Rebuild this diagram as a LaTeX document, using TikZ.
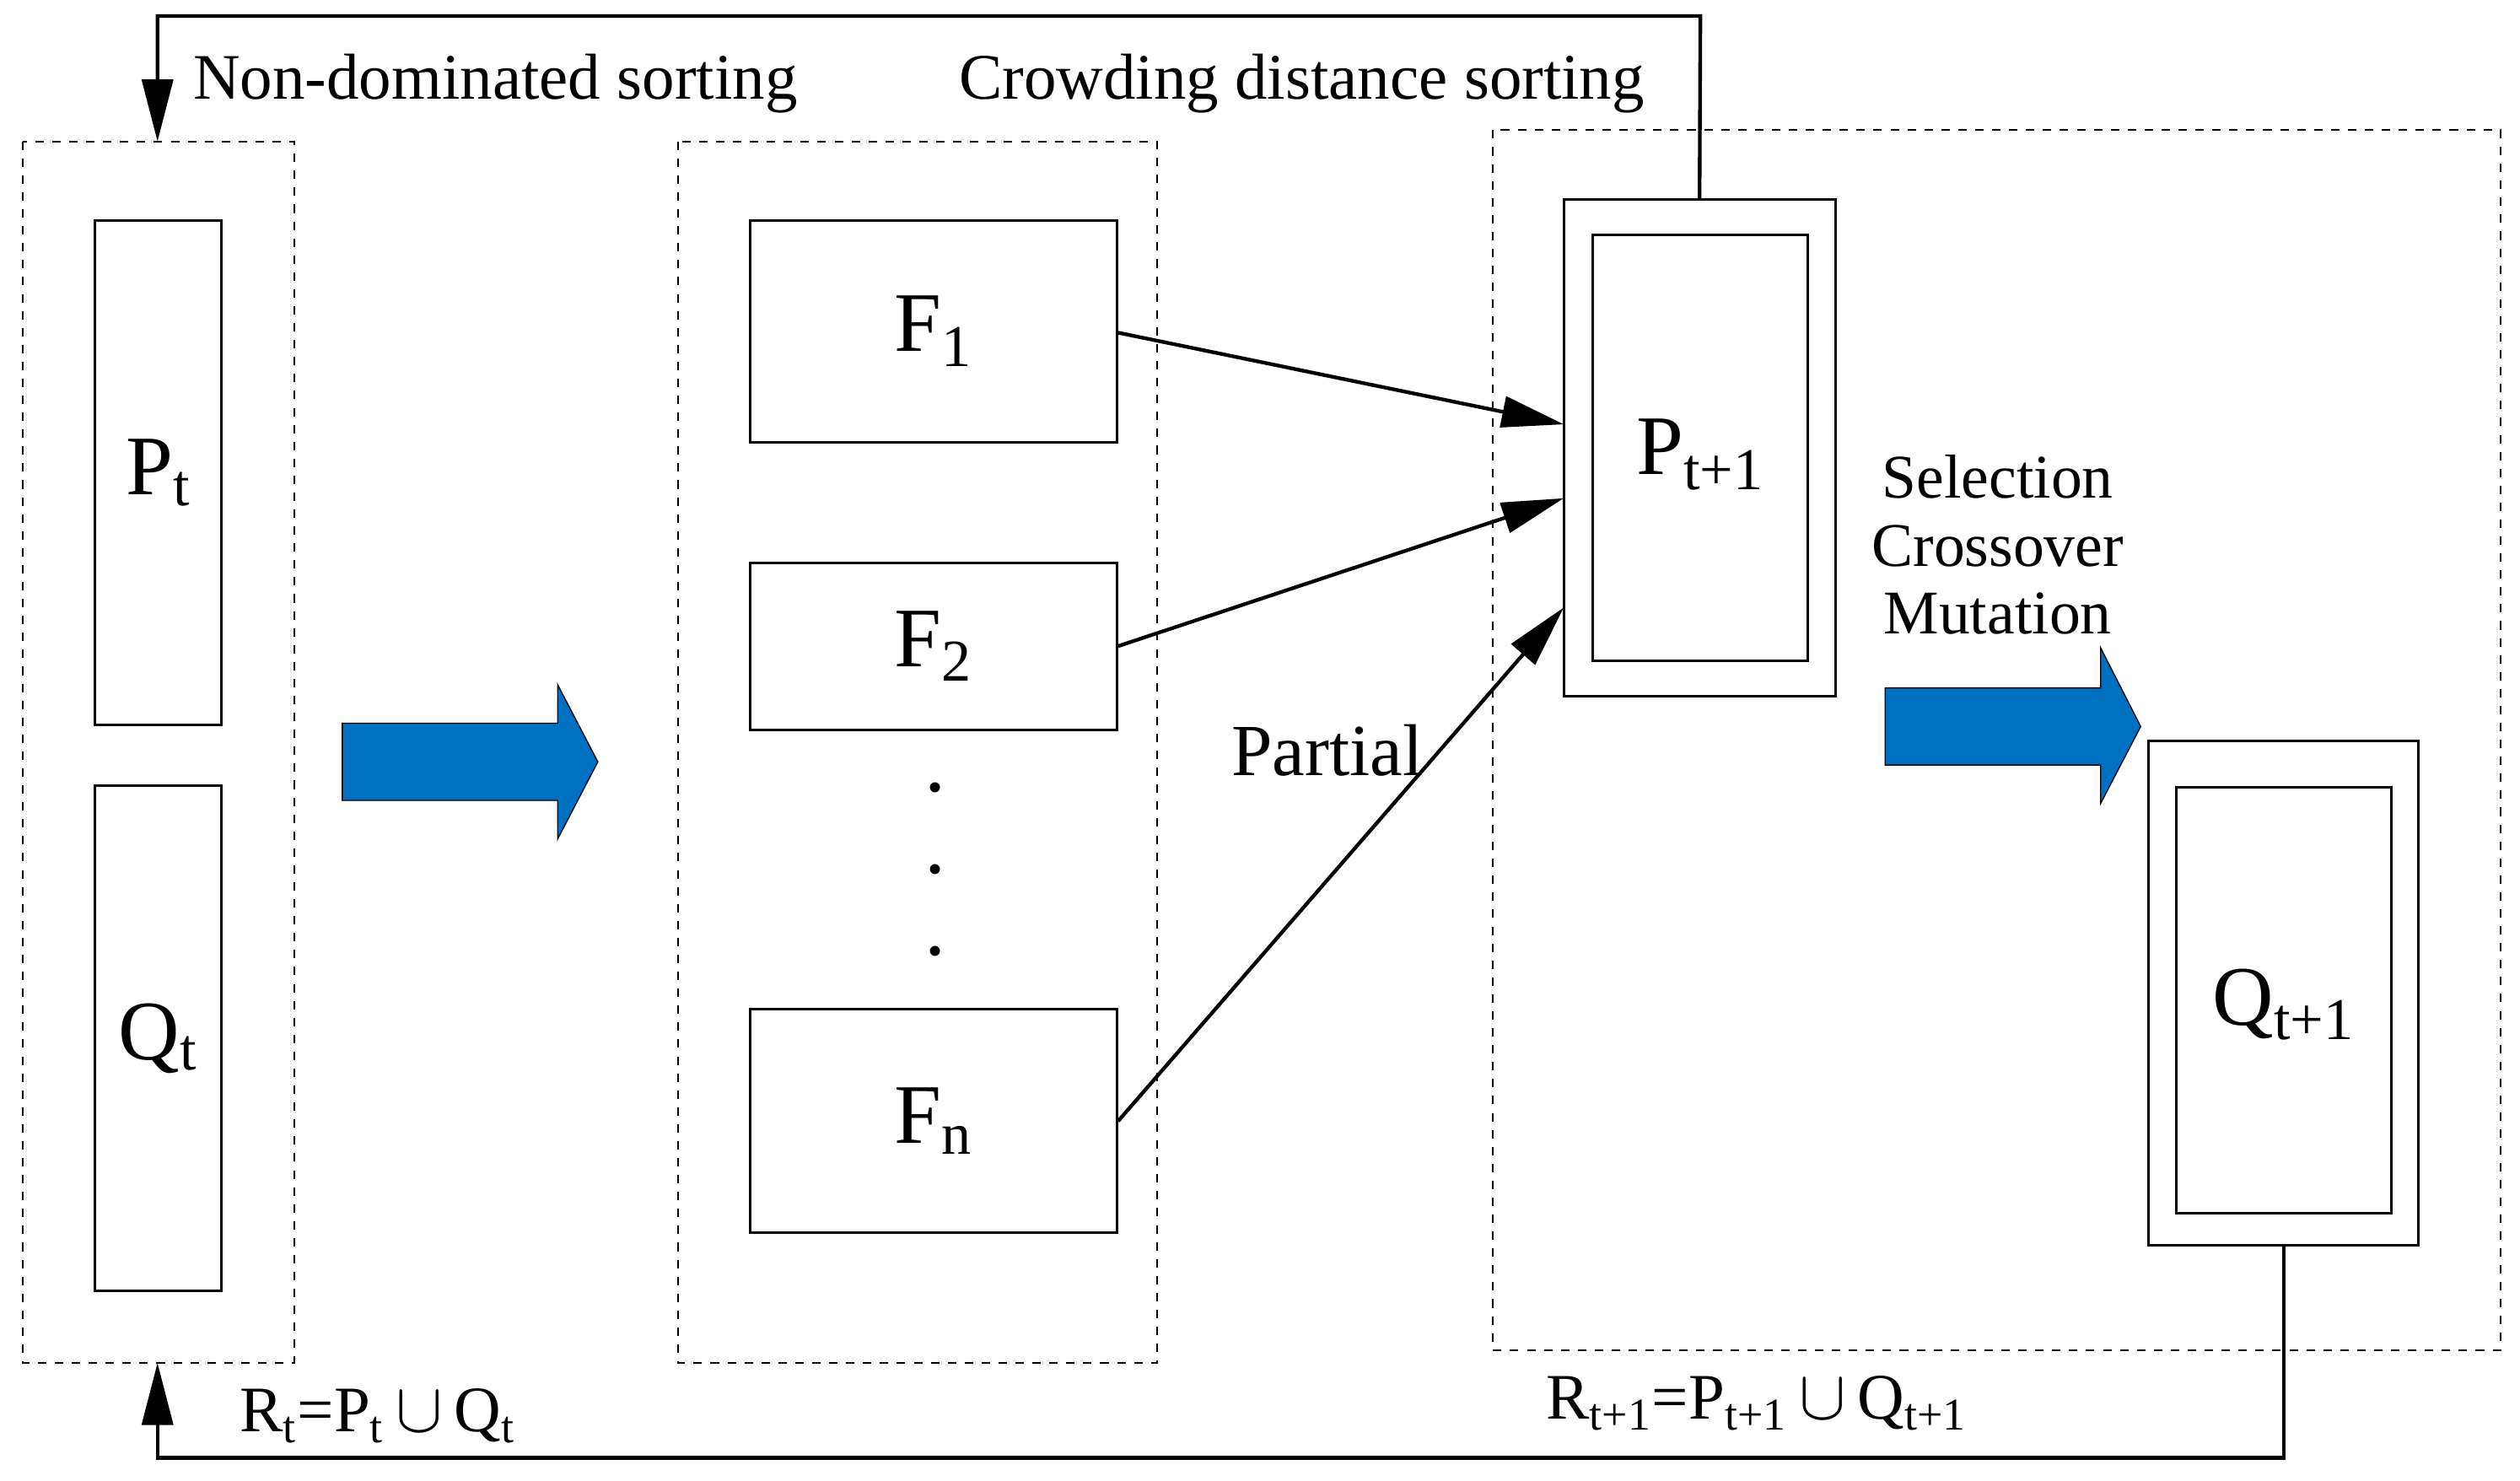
\documentclass[tikz,border=0pt]{standalone}
\usepackage{fontspec}
\setmainfont{Liberation Serif}
\usetikzlibrary{arrows.meta}
\definecolor{blu}{RGB}{0,112,192}
\begin{document}
\begin{tikzpicture}[x=0.02cm,y=-0.02cm,
  dbox/.style={draw,dashed,line width=0.6pt},
  box/.style={draw,line width=0.9pt},
  lbl/.style={font=\fontsize{23}{26}\selectfont},
  big/.style={font=\fontsize{30}{32}\selectfont},
  arr/.style={line width=1.3pt,-{Triangle[length=22pt,width=11pt]}},
  barr/.style={fill=blu,draw=black,line width=0.4pt}]
\useasboundingbox (0,0) rectangle (1568,921);
% dashed groups
\draw[dbox] (14,88) rectangle (183,848);
\draw[dbox] (422,88) rectangle (720,848);
\draw[dbox] (929,81) rectangle (1556,840);
% left
\node[box,minimum width=1.58cm,minimum height=6.28cm] (Pt) at (98.5,294) {};
\node[big] at (Pt) {P\textsubscript{t}};
\node[box,minimum width=1.58cm,minimum height=6.28cm] (Qt) at (98.5,646) {};
\node[big] at (Qt) {Q\textsubscript{t}};
% blue arrows
\draw[barr] (213,450) -- (347,450) -- (347,426) -- (372,474) -- (347,522) -- (347,498) -- (213,498) -- cycle;
\draw[barr] (1173,428) -- (1307,428) -- (1307,403) -- (1332,452) -- (1307,500) -- (1307,476) -- (1173,476) -- cycle;
% fronts
\node[box,minimum width=4.56cm,minimum height=2.76cm] (F1) at (581,206) {};
\node[big] at (F1) {F\textsubscript{1}};
\node[box,minimum width=4.56cm,minimum height=2.08cm] (F2) at (581,402) {};
\node[big] at (F2) {F\textsubscript{2}};
\node[box,minimum width=4.56cm,minimum height=2.78cm] (Fn) at (581,697.5) {};
\node[big] at (Fn) {F\textsubscript{n}};
\node[big] (d1) at (582,490) {.};
\node[big] (d2) at (582,541) {.};
\node[big] (d3) at (582,592) {.};
% P_{t+1}
\node[box,minimum width=3.38cm,minimum height=6.18cm] (P1) at (1057.5,278.5) {};
\node[box,minimum width=2.68cm,minimum height=5.3cm] (P1i) at (1058,278.5) {};
\node[big] at (1058,283) {P\textsubscript{t+1}};
% Q_{t+1}
\node[box,minimum width=3.36cm,minimum height=6.28cm] (Q1) at (1421,618) {};
\node[box,minimum width=2.68cm,minimum height=5.3cm] (Q1i) at (1421,622.5) {};
\node[big] at (1421,625) {Q\textsubscript{t+1}};
% arrows from fronts
\coordinate (a1) at (973,264);
\coordinate (a2) at (973,310);
\coordinate (a3) at (973,378);
\draw[arr] (F1.east) ++(0,1) -- (a1);
\draw[arr] (F2.east) -- (a2);
\draw[arr] (Fn.east) -- (a3);
\node[lbl,font=\fontsize{26}{28}\selectfont] at (826,467) {Partial};
% texts
\node[lbl,anchor=west] at (114,52) {Non-dominated sorting};
\node[lbl] at (810,52) {Crowding distance sorting};
\node[lbl,align=center,font=\fontsize{22}{26}\selectfont] at (1243,339) {Selection\\[-2pt]Crossover\\[-2pt]Mutation};
\node[lbl] at (235,881) {R\textsubscript{t}=P\textsubscript{t}$\,\cup\,$Q\textsubscript{t}};
\node[lbl] at (1093,873) {R\textsubscript{t+1}=P\textsubscript{t+1}$\,\cup\,$Q\textsubscript{t+1}};
% feedback loops
\coordinate (lt) at (98,88);
\coordinate (lb) at (98,848);
\draw[arr] (P1.north) -- (1058,10) -- (98,10) -- (lt);
\draw[arr] (Q1.south) -- (1421,907) -- (98,907) -- (lb);
\end{tikzpicture}
\end{document}
